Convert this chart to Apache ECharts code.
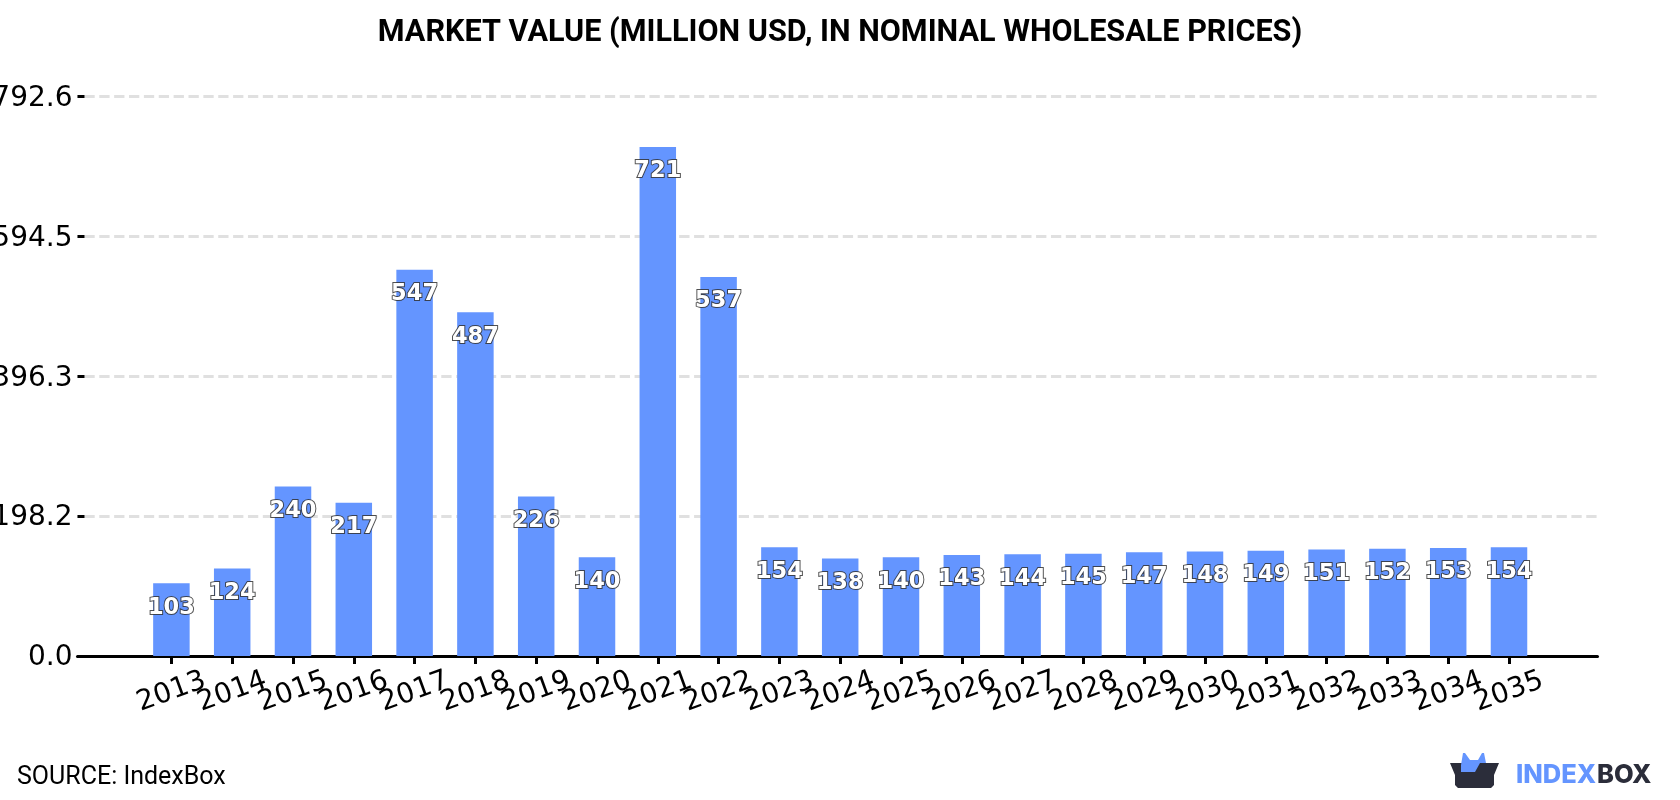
<!DOCTYPE html>
<html>
<head>
<meta charset="utf-8">
<style>html,body{margin:0;padding:0;background:#fff}#chart{width:1680px;height:800px}</style>
<script src="https://cdn.jsdelivr.net/npm/echarts@6/dist/echarts.min.js"></script>
</head>
<body>
<div id="chart"></div>
<script>
const years = ['2013','2014','2015','2016','2017','2018','2019','2020','2021','2022','2023','2024','2025','2026','2027','2028','2029','2030','2031','2032','2033','2034','2035'];
const marketValue = [103,124,240,217,547,487,226,140,721,537,154,138,140,143,144,145,147,148,149,151,152,153,154];
const yTickLabels = ['0.0','198.2','396.3','594.5','792.6'];
const yMax = 792.6;
const yStep = yMax / 4;

const BLUE = '#6495ff';
const DARK = '#2b2d3a';
const chart = echarts.init(document.getElementById('chart'), null, {renderer: 'canvas'});
chart.setOption({
  animation: false,
  backgroundColor: '#fff',
  title: {
    text: 'MARKET VALUE (MILLION USD, IN NOMINAL WHOLESALE PRICES)',
    left: 'center', top: 13,
    textStyle: {fontFamily: 'Roboto', fontWeight: 700, fontSize: 30.6, color: '#000'}
  },
  grid: [
    {left: 141, top: 96.5, width: 1398.4, height: 559.5, outerBoundsMode: 'none'},
    {left: 77.5, top: 96.5, width: 1520, height: 559.5, outerBoundsMode: 'none'}
  ],
  xAxis: [
    {
      type: 'category', gridIndex: 0, data: years,
      axisLine: {show: false},
      axisTick: {show: true, alignWithLabel: true, length: 8, lineStyle: {color: '#000', width: 3}},
      axisLabel: {
        interval: 0, rotate: 20, align: 'center', verticalAlign: 'middle', margin: 36,
        fontFamily: 'DejaVu Sans', fontSize: 28, color: '#000'
      }
    },
    {
      type: 'category', gridIndex: 1, data: [''],
      axisLine: {show: true, lineStyle: {color: '#000', width: 3}},
      axisTick: {show: false}, axisLabel: {show: false}
    }
  ],
  yAxis: [
    {type: 'value', gridIndex: 0, min: 0, max: yMax, interval: yStep, show: false, splitLine: {show: false}},
    {
      type: 'value', gridIndex: 1, min: 0, max: yMax, interval: yStep,
      axisLine: {show: false},
      axisTick: {show: true, inside: true, length: 7, lineStyle: {color: '#000', width: 3}},
      axisLabel: {
        margin: 5,
        formatter: v => '{t|' + yTickLabels[Math.round(v / yStep)] + '}',
        rich: {t: {fontFamily: 'DejaVu Sans', fontSize: 28, color: '#000', padding: [4, 0, 0, 0]}}
      },
      splitLine: {show: true, lineStyle: {color: '#e0e0e0', width: 3, type: [10.3, 4.57], dashOffset: 7.97}}
    }
  ],
  series: [{
    type: 'bar', xAxisIndex: 0, yAxisIndex: 0, data: marketValue,
    barWidth: 36.5,
    itemStyle: {color: BLUE},
    label: {
      show: true, position: 'insideTop', distance: 13,
      fontFamily: 'DejaVu Sans', fontWeight: 700, fontSize: 22.5, color: '#fff',
      textBorderColor: 'rgba(50,50,50,0.85)', textBorderWidth: 2
    }
  }],
  graphic: [
    {type: 'text', left: 17, top: 765, style: {text: 'SOURCE: IndexBox', fontFamily: 'Roboto', fontSize: 25, fill: '#000'}},
    {type: 'text', left: 1516, top: 762, style: {text: 'INDEX', fontFamily: 'Inter', fontWeight: 800, fontSize: 25.5, fill: BLUE}},
    {type: 'text', left: 1597, top: 762, style: {text: 'BOX', fontFamily: 'Inter', fontWeight: 800, fontSize: 25.5, fill: DARK}},
    {type: 'polygon', shape: {points: [[1450,763],[1499,763],[1494,775],[1494,785],[1491,788],[1458,788],[1455,785],[1455,775]]}, style: {fill: DARK}},
    {type: 'polygon', shape: {points: [[1461,772],[1461,765],[1463,753],[1465,753],[1470,760],[1478,760],[1482,753],[1484,753],[1486,763],[1480,763],[1475,772]]}, style: {fill: BLUE}}
  ]
});
</script>
</body>
</html>
